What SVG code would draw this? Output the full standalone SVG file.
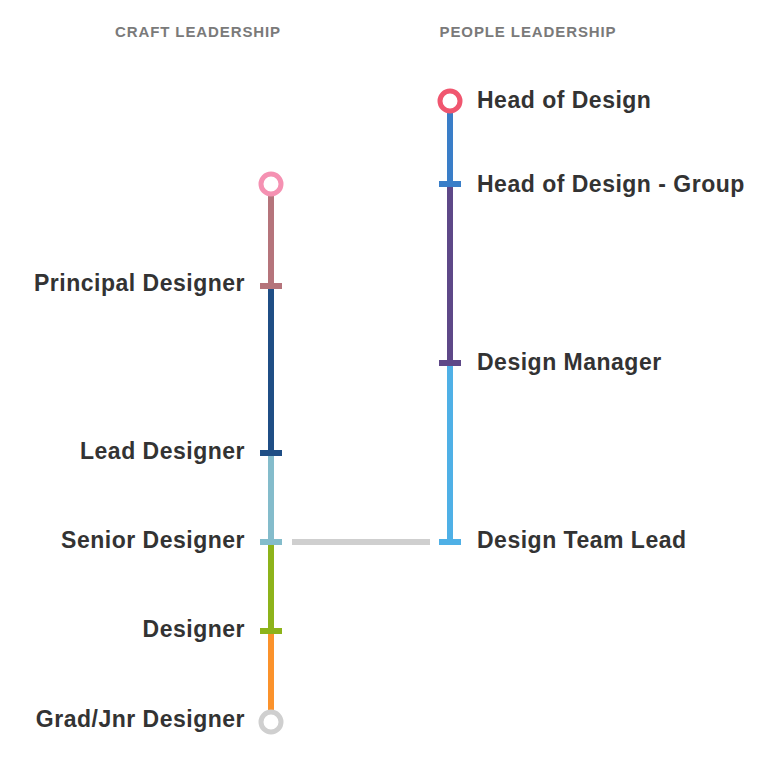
<svg xmlns="http://www.w3.org/2000/svg" width="768" height="766" viewBox="0 0 768 766">
<style>
.h{font-family:"Liberation Sans",Arial,sans-serif;font-weight:bold;font-size:15px;letter-spacing:0.9px;fill:#7a7a7a;text-anchor:middle}
.l{font-family:"Liberation Sans",Arial,sans-serif;font-weight:bold;font-size:23px;letter-spacing:0.5px;fill:#333}
.r{text-anchor:end}
line{stroke-width:6}
circle{fill:#fff;stroke-width:5}
</style>
<rect width="768" height="766" fill="#fff"/>
<text class="h" x="198" y="37">CRAFT LEADERSHIP</text>
<text class="h" x="528" y="37">PEOPLE LEADERSHIP</text>
<g id="connectors">
<line x1="271" y1="194" x2="271" y2="286" stroke="#b5747b"/>
<line x1="271" y1="286" x2="271" y2="453" stroke="#1f4e85"/>
<line x1="271" y1="453" x2="271" y2="542" stroke="#84bccb"/>
<line x1="271" y1="542" x2="271" y2="631" stroke="#8db31a"/>
<line x1="271" y1="631" x2="271" y2="712" stroke="#fb922b"/>
<line x1="450" y1="111" x2="450" y2="184" stroke="#3a7ec8"/>
<line x1="450" y1="184" x2="450" y2="363" stroke="#5e4888"/>
<line x1="450" y1="363" x2="450" y2="542" stroke="#4fb0e6"/>
<line x1="292" y1="542" x2="430" y2="542" stroke="#cfcfcf"/>
</g>
<g id="craft-top"><circle cx="271" cy="184" r="10" stroke="#f591b2"/></g>
<g id="principal"><line x1="260" y1="286" x2="282" y2="286" stroke="#b5747b"/><text class="l r" x="245" y="291">Principal Designer</text></g>
<g id="lead"><line x1="260" y1="453" x2="282" y2="453" stroke="#1f4e85"/><text class="l r" x="245" y="459">Lead Designer</text></g>
<g id="senior"><line x1="260" y1="542" x2="282" y2="542" stroke="#84bccb"/><text class="l r" x="245" y="548">Senior Designer</text></g>
<g id="designer"><line x1="260" y1="631" x2="282" y2="631" stroke="#8db31a"/><text class="l r" x="245" y="637">Designer</text></g>
<g id="grad"><circle cx="271" cy="722" r="10" stroke="#cfcfcf"/><text class="l r" x="245" y="727">Grad/Jnr Designer</text></g>
<g id="head"><circle cx="450" cy="101" r="10" stroke="#f0566f"/><text class="l" x="477" y="108">Head of Design</text></g>
<g id="head-group"><line x1="439" y1="184" x2="461" y2="184" stroke="#3a7ec8"/><text class="l" x="477" y="192">Head of Design - Group</text></g>
<g id="manager"><line x1="439" y1="363" x2="461" y2="363" stroke="#5e4888"/><text class="l" x="477" y="370">Design Manager</text></g>
<g id="team-lead"><line x1="439" y1="542" x2="461" y2="542" stroke="#4fb0e6"/><text class="l" x="477" y="548">Design Team Lead</text></g>
</svg>
